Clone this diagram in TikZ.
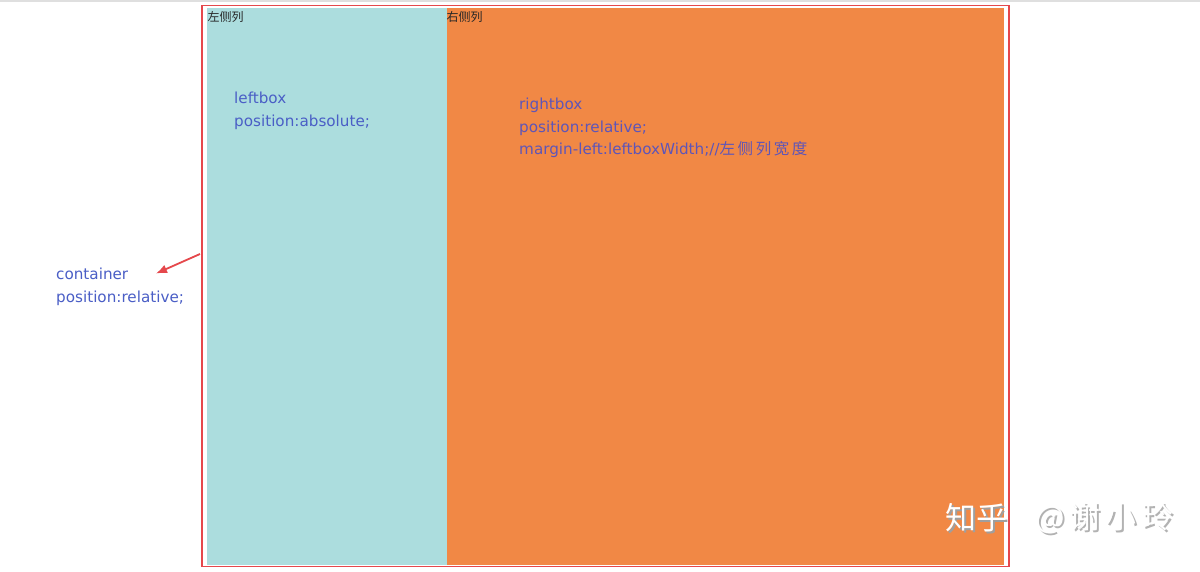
\documentclass[tikz,border=0pt]{standalone}
\usepackage{fontspec}
\usetikzlibrary{arrows.meta}
\setmainfont{DejaVu Sans}
\newfontfamily\cjk{Noto Sans CJK SC}
\definecolor{cyanbox}{HTML}{ACDDDE}
\definecolor{orangebox}{HTML}{F18845}
\definecolor{redline}{HTML}{E5484C}
\definecolor{bluetext}{HTML}{4A5EC6}
\definecolor{purpletext}{HTML}{5E55B8}
\begin{document}
\begin{tikzpicture}[x=1pt,y=-1pt,
  lbl/.style={inner sep=0pt,anchor=west,align=left,font=\fontsize{15.2}{22.5}\selectfont},
  small/.style={inner sep=0pt,anchor=west,font=\cjk\fontsize{12}{13}\selectfont,text=black!85},
  wm/.style={inner sep=0pt,anchor=west,font=\cjk\fontsize{31}{33}\selectfont}]
\useasboundingbox (0,0) rectangle (1200,572);
\fill[white] (0,0) rectangle (1200,572);
\draw[gray!25,line width=1.5pt] (0,0.8) -- (1200,0.8);
% container and columns
\fill[cyanbox] (207,8) rectangle (447,565);
\fill[orangebox] (447,8) rectangle (1004,565);
\draw[redline,line width=1.8pt] (202,5.5) rectangle (1009,566.5);
% column titles
\node[small] (lt) at (207.5,17) {左侧列};
\node[small] (rt) at (446.5,17) {右侧列};
% texts
\node[lbl,text=bluetext] (left) at (234,111) {leftbox\\position:absolute;};
\node[lbl,text=purpletext] (right) at (519,128) {rightbox\\position:relative;\\margin-left:leftboxWidth;//{\cjk\fontsize{15.5}{22.5}\selectfont 左\,侧\,列\,宽\,度}};
\node[lbl,text=bluetext] (cont) at (56,287) {container\\position:relative;};
% arrow
\coordinate (as) at (200,254);
\coordinate (ae) at (156,273.5);
\draw[redline,line width=1.8pt,-{Latex[length=11pt,width=9pt]}] (as) -- (ae);
% watermark
\node[wm,text=gray!75] (wm1s) at (947,520) {知乎};
\node[wm,text=white] (wm1) at (945,518) {知乎};
\node[wm,text=gray!60] (wm2s) at (1037,520) {@\,谢\,小\,玲};
\node[wm,text=white] (wm2) at (1035,518) {@\,谢\,小\,玲};
\end{tikzpicture}
\end{document}
